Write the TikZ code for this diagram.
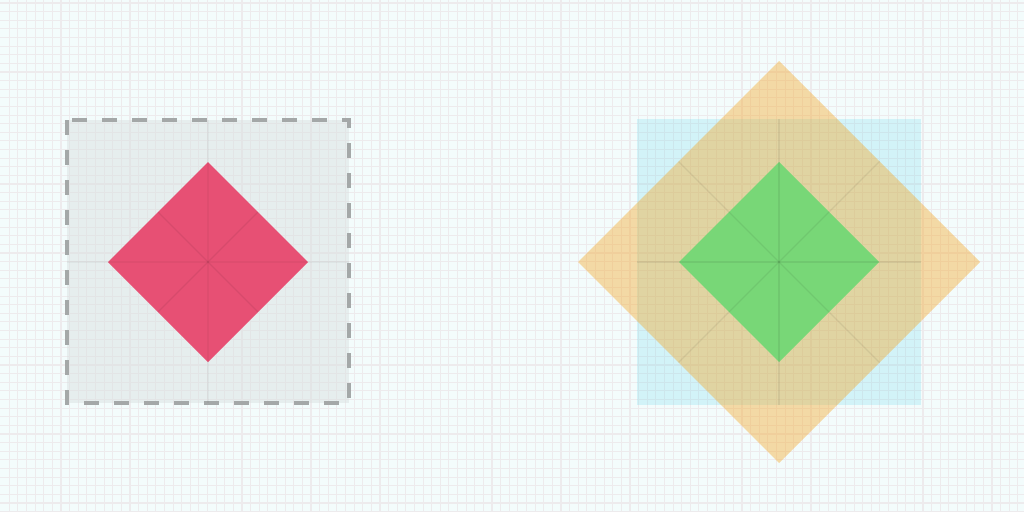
\documentclass[tikz,border=0pt]{standalone}
\usetikzlibrary{calc}
\begin{document}
\begin{tikzpicture}[x=1pt,y=-1pt,
  gridline/.style={draw={rgb,255:red,237;green,235;blue,237},line width=1.1pt},
  guide/.style={draw=black,draw opacity=0.065,line width=1.3pt},
  boxframe/.style={draw={rgb,255:red,164;green,168;blue,168},line width=3.5pt,dash pattern=on 15pt off 15pt,
    fill={rgb,255:red,215;green,222;blue,222},fill opacity=0.45},
  reddia/.style={fill={rgb,255:red,232;green,72;blue,110},fill opacity=0.95},
  cyansq/.style={fill={rgb,255:red,80;green,210;blue,235},fill opacity=0.2},
  orangedia/.style={fill={rgb,255:red,245;green,166;blue,35},fill opacity=0.4},
  greendia/.style={fill={rgb,255:red,112;green,216;blue,116},fill opacity=0.92}]
\definecolor{bgc}{RGB}{243,252,252}
\useasboundingbox (0,0) rectangle (1024,512);
\fill[bgc] (0,0) rectangle (1024,512);
% grid
\foreach \i in {0,...,118}{
  \pgfmathsetmacro{\xx}{9.3+8.62*\i}
  \draw[gridline] (\xx,0) -- (\xx,512);
}
\foreach \j in {0,...,59}{
  \pgfmathsetmacro{\yy}{3.0+8.62*\j}
  \draw[gridline] (0,\yy) -- (1024,\yy);
}
% left
\coordinate (lc) at (208,262);
\path[boxframe] (67,120) rectangle (349,403);
\path[reddia] (208,162) coordinate (rt) -- (308,262) coordinate (rr) -- (208,362) coordinate (rb) -- (108,262) coordinate (rl) -- cycle;
\coordinate (lh1) at (67,262); \coordinate (lh2) at (349,262);
\coordinate (lv1) at (208,120); \coordinate (lv2) at (208,403);
\draw[guide,draw opacity=0.035] (lh1) -- (lh2);
\draw[guide,draw opacity=0.035] (lv1) -- (lv2);
\draw[guide] ($(rt)!0.5!(rl)$) -- ($(rb)!0.5!(rr)$);
\draw[guide] ($(rt)!0.5!(rr)$) -- ($(rb)!0.5!(rl)$);
% right
\coordinate (rc) at (779,262);
\path[cyansq] (637,119) rectangle (921,405);
\path[orangedia] (779,61) coordinate (ot) -- (980,262) coordinate (or) -- (779,463) coordinate (ob) -- (578,262) coordinate (ol) -- cycle;
\path[greendia] (779,162) -- (879,262) -- (779,362) -- (679,262) -- cycle;
\coordinate (rh1) at (637,262); \coordinate (rh2) at (921,262);
\coordinate (rv1) at (779,119); \coordinate (rv2) at (779,405);
\draw[guide] (rh1) -- (rh2);
\draw[guide] (rv1) -- (rv2);
\draw[guide] ($(ot)!0.5!(ol)$) -- ($(ob)!0.5!(or)$);
\draw[guide] ($(ot)!0.5!(or)$) -- ($(ob)!0.5!(ol)$);
\end{tikzpicture}
\end{document}
